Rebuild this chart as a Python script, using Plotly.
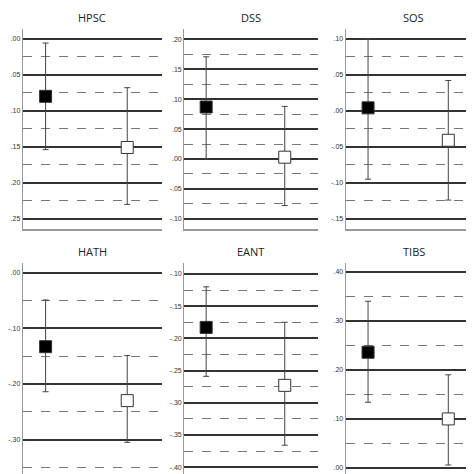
import plotly.graph_objects as go

titles = ["HPSC", "DSS", "SOS", "HATH", "EANT", "TIBS"]
means = [[-0.080, -0.151], [0.087, 0.003], [0.004, -0.041],
         [-0.133, -0.230], [-0.183, -0.273], [0.236, 0.100]]
upper = [[-0.006, -0.068], [0.171, 0.088], [0.100, 0.042],
         [-0.049, -0.149], [-0.120, -0.175], [0.340, 0.190]]
lower = [[-0.154, -0.230], [0.000, -0.078], [-0.095, -0.124],
         [-0.214, -0.305], [-0.259, -0.366], [0.134, 0.006]]
tick_vals = [[0, -0.05, -0.10, -0.15, -0.20, -0.25],
             [0.20, 0.15, 0.10, 0.05, 0.0, -0.05, -0.10],
             [0.10, 0.05, 0.0, -0.05, -0.10, -0.15],
             [0, -0.10, -0.20, -0.30],
             [-0.10, -0.15, -0.20, -0.25, -0.30, -0.35, -0.40],
             [0.40, 0.30, 0.20, 0.10, 0.0]]
tick_text = [[".00", ".05", ".10", ".15", ".20", ".25"],
             [".20", ".15", ".10", ".05", ".00", "-.05", "-.10"],
             [".10", ".05", ".00", "-.05", "-.10", "-.15"],
             [".00", "-.10", "-.20", "-.30"],
             ["-.10", "-.15", "-.20", "-.25", "-.30", "-.35", "-.40"],
             [".40", ".30", ".20", ".10", ".00"]]
dticks = [0.05, 0.05, 0.05, 0.10, 0.05, 0.10]
y_ranges = [[-0.264, 0.013], [-0.117, 0.217], [-0.164, 0.113],
            [-0.367, 0.0175], [-0.415, -0.083], [-0.018, 0.418]]
groups = [1, 2]

x_domains = [[0.027, 0.321], [0.369, 0.652], [0.711, 1.0]]
y_domains = [[0.534, 0.955], [0.011, 0.462]]

fig = go.Figure()
annotations = []
for i, name in enumerate(titles):
    r, c = divmod(i, 3)
    n = i + 1
    xa = "x" if n == 1 else f"x{n}"
    ya = "y" if n == 1 else f"y{n}"
    for j in range(2):
        fig.add_trace(go.Scatter(
            x=[groups[j]], y=[means[i][j]], mode="markers",
            xaxis=xa, yaxis=ya, showlegend=False,
            marker=dict(symbol="square", size=12,
                        color="black" if j == 0 else "white",
                        line=dict(color="#333", width=1)),
            error_y=dict(type="data", symmetric=False,
                         array=[upper[i][j] - means[i][j]],
                         arrayminus=[means[i][j] - lower[i][j]],
                         color="#444", thickness=1, width=3)))
    fig.layout[f"xaxis{'' if n == 1 else n}"] = dict(
        domain=x_domains[c], anchor=ya, range=[0.72, 2.42],
        showgrid=False, showticklabels=False, zeroline=False,
        showline=True, linecolor="#999", linewidth=1.5)
    fig.layout[f"yaxis{'' if n == 1 else n}"] = dict(
        domain=y_domains[r], anchor=xa, range=y_ranges[i],
        tickvals=tick_vals[i], ticktext=tick_text[i],
        tickfont=dict(size=7, color="#333", family="Arial"),
        ticks="", showgrid=True, gridcolor="#333", gridwidth=1.5,
        zeroline=False, showline=True, linecolor="#999", linewidth=1,
        minor=dict(dtick=dticks[i], tick0=tick_vals[i][0] + dticks[i] / 2,
                   showgrid=True, gridcolor="#777", griddash="dash", gridwidth=1))
    annotations.append(dict(
        text=name, xref="paper", yref="paper",
        x=sum(x_domains[c]) / 2, y=y_domains[r][1] + 0.004,
        xanchor="center", yanchor="bottom", showarrow=False,
        font=dict(size=11, color="#222", family="Open Sans")))

fig.update_layout(width=474, height=474, margin=dict(l=0, r=0, t=0, b=0),
                  paper_bgcolor="white", plot_bgcolor="white",
                  annotations=annotations)
fig.write_html("out.html")
